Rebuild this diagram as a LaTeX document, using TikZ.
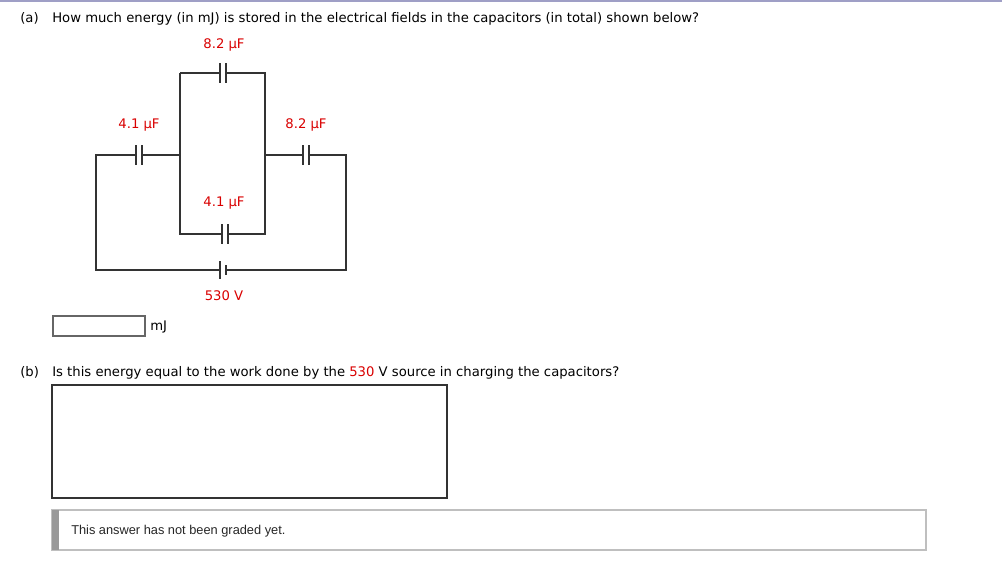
\documentclass[tikz,border=0pt]{standalone}
\usepackage{fontspec}
\setmainfont{DejaVu Sans}
\newfontfamily\arialf{Liberation Sans}
\begin{document}
\begin{tikzpicture}[x=0.75pt,y=-0.75pt,
  wire/.style={line width=1.3pt,color=black!80},
  lbl/.style={font=\fontsize{9.9}{11}\selectfont,text=red!85!black,inner sep=0pt},
  txt/.style={font=\fontsize{9.9}{11}\selectfont,inner sep=0pt,anchor=west},
  plate/.style={line width=1.3pt,color=black!80}]
\useasboundingbox (0,0) rectangle (1002,578);
\draw[color=blue!25!gray!60,line width=1pt] (0,1) -- (1002,1);
\node[txt] (qa0) at (20,18.5) {(a)};
\node[txt] (qa) at (52,18.5) {How much energy (in mJ) is stored in the electrical fields in the capacitors (in total) shown below?};
% corners
\coordinate (OL) at (96,155); \coordinate (OR) at (346,155);
\coordinate (BL) at (96,270); \coordinate (BR) at (346,270);
\coordinate (IL) at (180,155); \coordinate (IR) at (265,155);
\coordinate (TL) at (180,73); \coordinate (TR) at (265,73);
\coordinate (DL) at (180,234); \coordinate (DR) at (265,234);
% capacitors
\newcommand{\capac}[3]{%
 \coordinate (#3a) at (#1-3,#2); \coordinate (#3b) at (#1+3,#2);
 \draw[plate] (#1-3,#2-10) -- (#1-3,#2+10); \draw[plate] (#1+3,#2-10) -- (#1+3,#2+10);}
\capac{223}{73}{ct}
\capac{139}{155}{cl}
\capac{306}{155}{cr}
\capac{225}{234}{cb}
\coordinate (ba) at (220,270); \coordinate (bb) at (226,270);
\draw[plate] (220,261) -- (220,279); \draw[plate] (226,265) -- (226,275);
\draw[wire] (TL) -- (cta); \draw[wire] (ctb) -- (TR) -- (DR) -- (cbb);
\draw[wire] (cba) -- (DL) -- (TL);
\draw[wire] (IL) -- (clb); \draw[wire] (cla) -- (OL) -- (BL) -- (ba);
\draw[wire] (IR) -- (cra); \draw[wire] (crb) -- (OR) -- (BR) -- (bb);
\node[lbl] (l1) at (224,45) {8.2 μF};
\node[lbl] (l2) at (139,125) {4.1 μF};
\node[lbl] (l3) at (306,125) {8.2 μF};
\node[lbl] (l4) at (224,203) {4.1 μF};
\node[lbl] (l5) at (224,296) {530 V};
\draw[color=black!60,line width=0.8pt] (53,316) rectangle (145,336);
\node[txt] (mj) at (150,327) {mJ};
\node[txt] (qb0) at (20,372.5) {(b)};
\node[txt] (qb) at (52,372.5) {Is this energy equal to the work done by the \textcolor{red!85!black}{530} V source in charging the capacitors?};
\draw[color=black!80,line width=0.8pt] (52,385) rectangle (447,498);
\draw[color=black!25,line width=0.8pt] (52,510) rectangle (926,550);
\fill[black!40] (52,510) rectangle (59,550);
\node[txt,font=\arialf\fontsize{9.6}{11}\selectfont,text=black!85] (g) at (71,531) {This answer has not been graded yet.};
\end{tikzpicture}
\end{document}
